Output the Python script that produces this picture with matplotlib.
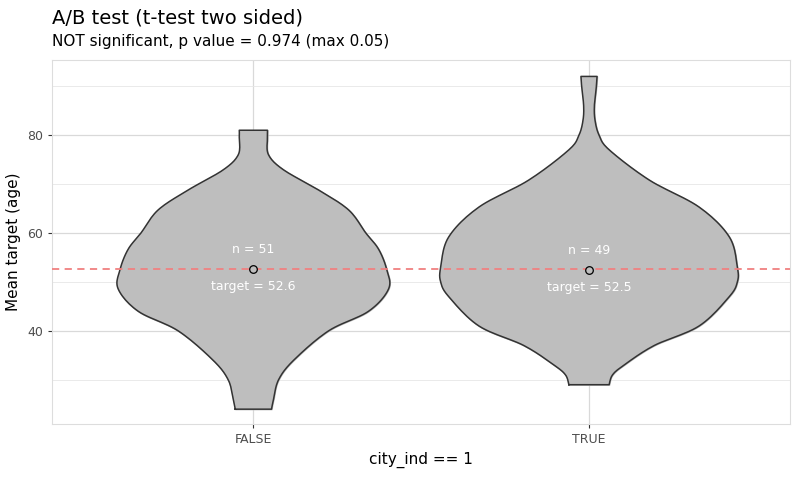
import numpy as np
import matplotlib.pyplot as plt

groups = ['FALSE', 'TRUE']
n_obs = [51, 49]
means = [52.6, 52.5]
overall_mean = 52.55

# violin outlines: value levels and half-widths (x units)
false_y = [24.0, 26.0, 30.0, 34.0, 40.0, 44.0, 48.6, 52.6, 56.7, 60.0, 64.7, 68.8, 72.9, 76.0, 79.5, 81.0]
false_w = [0.054, 0.06, 0.075, 0.12, 0.224, 0.343, 0.403, 0.397, 0.373, 0.335, 0.284, 0.194, 0.09, 0.045, 0.042, 0.042]
true_y = [29.0, 31.0, 33.0, 37.0, 41.0, 47.0, 50.0, 53.0, 59.2, 65.3, 70.8, 77.0, 80.0, 83.0, 86.0, 90.0, 92.0]
true_w = [0.06, 0.07, 0.104, 0.194, 0.328, 0.418, 0.442, 0.442, 0.418, 0.328, 0.18, 0.06, 0.03, 0.018, 0.016, 0.022, 0.024]


def smooth(yy, ww, k=12):
    # catmull-rom curve through the read points, just for a rounder outline
    p = np.column_stack([yy, ww])
    p = np.vstack([p[0], p, p[-1]])
    out = []
    t = np.linspace(0, 1, k, endpoint=False)[:, None]
    for i in range(1, len(p) - 2):
        p0, p1, p2, p3 = p[i - 1], p[i], p[i + 1], p[i + 2]
        out.append(0.5 * (2 * p1 + (-p0 + p2) * t + (2 * p0 - 5 * p1 + 4 * p2 - p3) * t ** 2
                          + (-p0 + 3 * p1 - 3 * p2 + p3) * t ** 3))
    out.append(p[-2][None, :])
    out = np.vstack(out)
    return out[:, 0], out[:, 1]


fig, ax = plt.subplots(figsize=(8, 4.94), dpi=100)
fig.subplots_adjust(left=0.065, right=0.988, top=0.878, bottom=0.142)
ax.set_facecolor('white')
for s in ax.spines.values():
    s.set_color('#dddddd')

for i, (yy, ww) in enumerate([(false_y, false_w), (true_y, true_w)]):
    x = i + 1
    yy, ww = smooth(yy, ww)
    ax.fill_betweenx(yy, x - ww, x + ww, color='#bebebe', zorder=2)
    xs = np.concatenate([x - ww, (x + ww)[::-1], [x - ww[0]]])
    ys = np.concatenate([yy, yy[::-1], [yy[0]]])
    ax.plot(xs, ys, color='#333333', lw=1.1, zorder=3)
    ax.scatter([x], [means[i]], s=30, facecolor='#bebebe', edgecolor='black', lw=0.9, zorder=5)
    ax.text(x, means[i] + 2.6, f'n = {n_obs[i]}', color='white', ha='center', va='bottom', fontsize=9, zorder=6)
    ax.text(x, means[i] - 2.3, f'target = {means[i]}', color='white', ha='center', va='top', fontsize=9, zorder=6)

ax.axhline(overall_mean, color='#f08080', ls=(0, (4, 3)), lw=1.3, zorder=4)

ax.set_xlim(0.4, 2.6)
ax.set_ylim(21.0, 95.3)
ax.set_xticks([1, 2])
ax.set_xticklabels(groups)
ax.set_yticks([40, 60, 80])
ax.set_yticks([30, 50, 70, 90], minor=True)
ax.grid(True, which='major', color='#d9d9d9', lw=0.9, zorder=0)
ax.grid(True, which='minor', axis='y', color='#e6e6e6', lw=0.6, zorder=0)
ax.set_axisbelow(True)
ax.tick_params(which='both', length=3, color='#333333', labelcolor='#4d4d4d', labelsize=9)
ax.tick_params(which='minor', length=0)
ax.set_xlabel('city_ind == 1', fontsize=11)
ax.set_ylabel('Mean target (age)', fontsize=11)
fig.text(0.065, 0.963, 'A/B test (t-test two sided)', fontsize=14, ha='left', va='center')
fig.text(0.065, 0.915, 'NOT significant, p value = 0.974 (max 0.05)', fontsize=11, ha='left', va='center')

plt.savefig('out.png', dpi=100)
